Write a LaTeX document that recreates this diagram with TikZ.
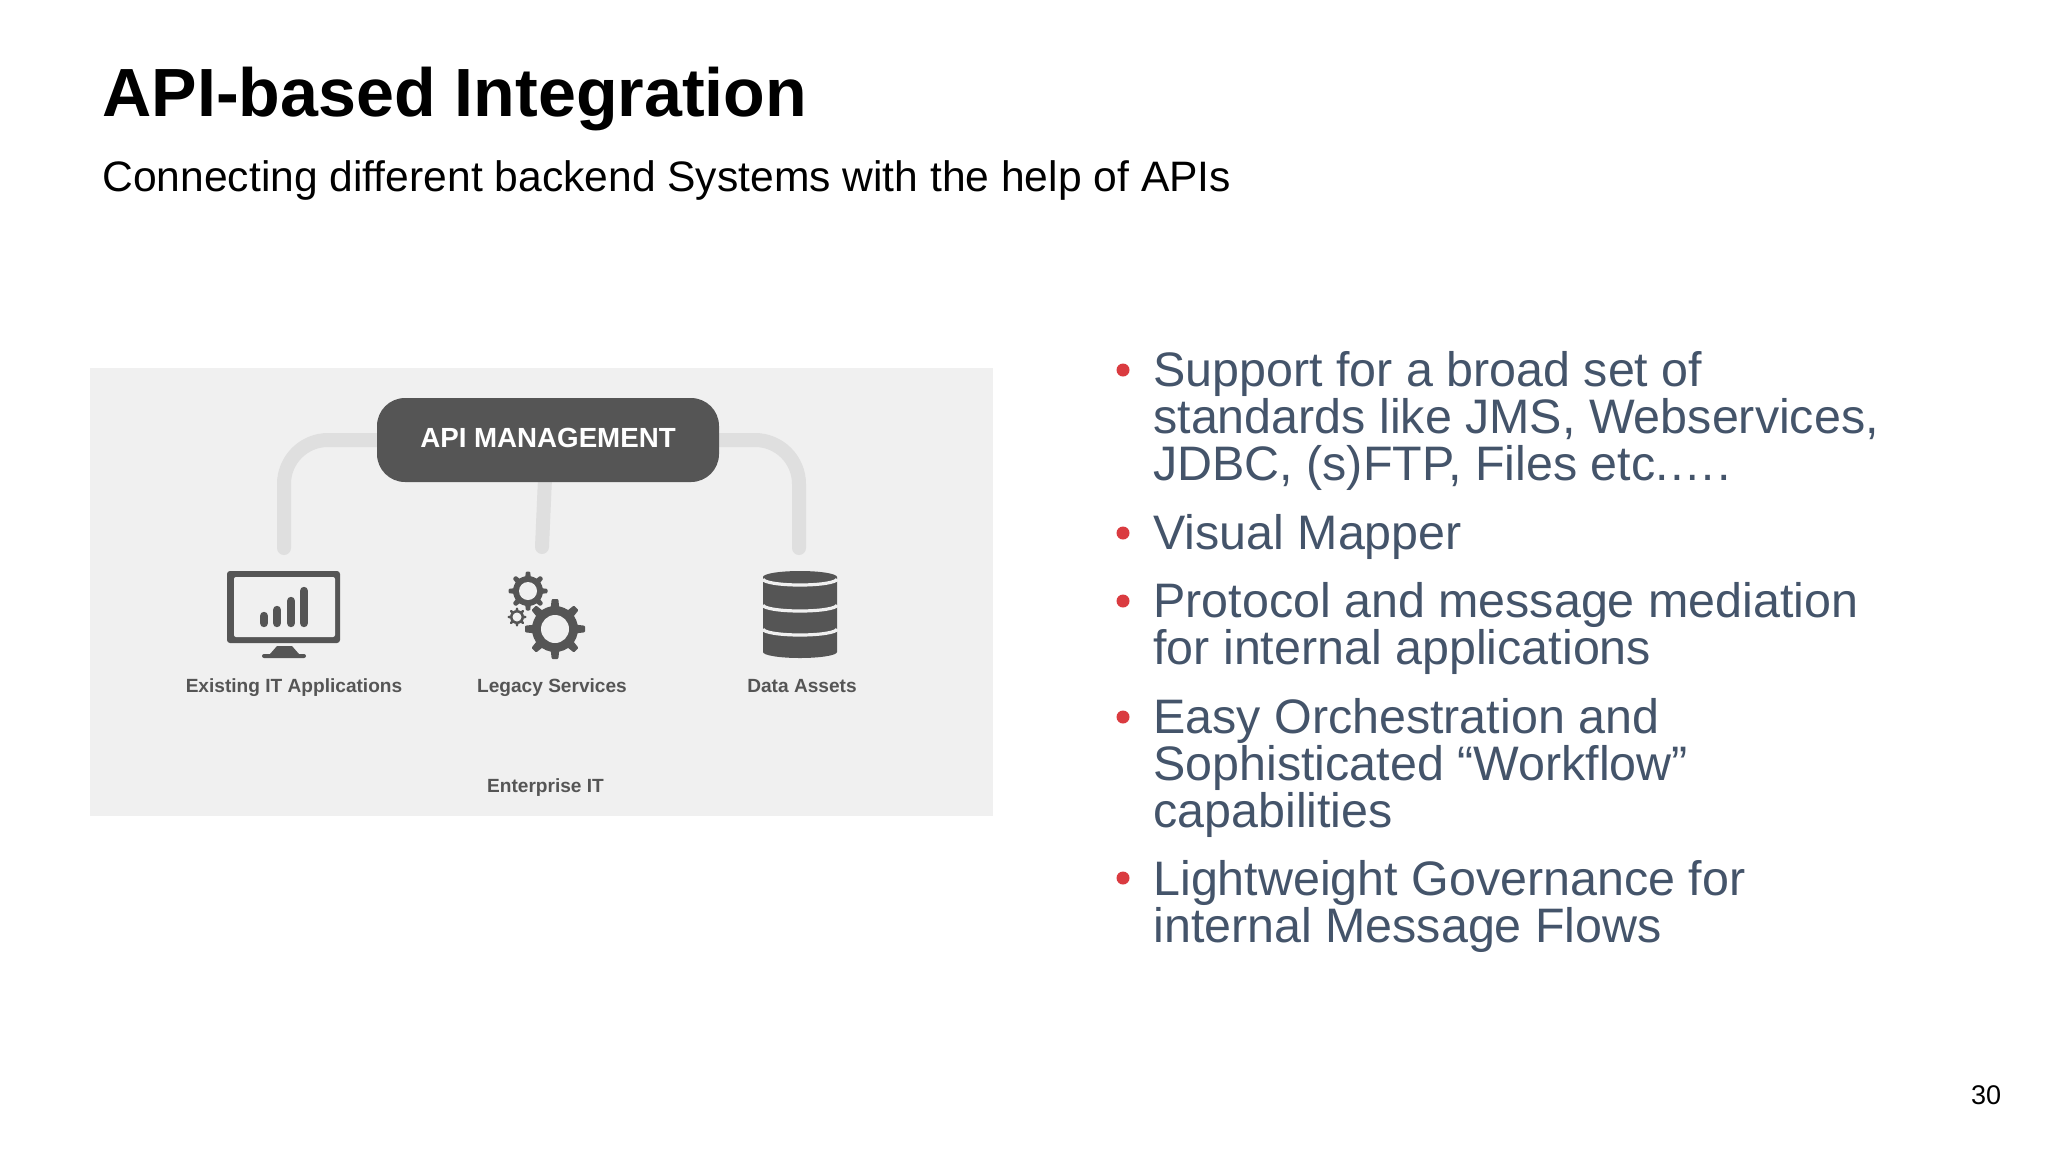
\documentclass[tikz,border=0pt]{standalone}
\usepackage{fontspec}
\usetikzlibrary{backgrounds}
\setmainfont{Liberation Sans}
\definecolor{panelgray}{HTML}{F0F0F0}
\definecolor{linkgray}{HTML}{DFDFDF}
\definecolor{icongray}{HTML}{555555}
\definecolor{slatetext}{HTML}{44546A}
\definecolor{bulletred}{HTML}{DA3B40}
\tikzset{
  caption/.style={font=\fontsize{9.55}{12}\selectfont\bfseries, text=icongray, inner sep=0pt, anchor=base},
  bulletitem/.style={font=\fontsize{24.2}{23.5}\selectfont, text=slatetext, align=left, anchor=north west, inner sep=0pt},
  bulletdot/.style={circle, fill=bulletred, minimum size=6.5pt, inner sep=0pt},
  link/.style={draw=linkgray, line width=7pt, line cap=round, rounded corners=22pt},
}
% one gear: centre, outer radius, body radius, hole radius
\newcommand{\geargly}[5]{
  \begin{scope}[shift={(#1,#2)}]
    \foreach \a in {0,45,...,315}
      \fill[icongray, rotate=\a, rounded corners=0.5pt] (-0.22*#3,0) -- (-0.11*#3,#3) -- (0.11*#3,#3) -- (0.22*#3,0) -- cycle;
    \fill[icongray] (0,0) circle (#4);
    \fill[panelgray] (0,0) circle (#5);
  \end{scope}
}
\begin{document}
\begin{tikzpicture}[x=0.5pt,y=-0.5pt]
  \useasboundingbox (0,0) rectangle (2048,1152);

  \node[anchor=base west, inner sep=0pt, font=\fontsize{34.1}{40}\selectfont\bfseries] (title) at (102,116) {API-based Integration};
  \node[anchor=base west, inner sep=0pt, font=\fontsize{21.3}{26}\selectfont] (subtitle) at (102,191) {Connecting different backend Systems with the help of APIs};

  \coordinate (appsend) at (284,548);
  \coordinate (svcend) at (542,547);
  \coordinate (dataend) at (799,548);
  \coordinate (svcstart) at (545,478);

  \node[fill=icongray, rounded corners=14pt, minimum width=171pt, minimum height=42pt, inner sep=0pt] (api) at (548,440) {};
  \node[text=white, font=\fontsize{13.85}{16}\selectfont\bfseries, inner sep=0pt] (apilabel) at (548,438) {API MANAGEMENT};

  \begin{scope}[on background layer]
    \fill[white] (0,0) rectangle (2048,1152);
    \fill[panelgray] (90,368) rectangle (993,816);
    \draw[link] (api.center) -- (284,440) -- (appsend);
    \draw[link] (api.center) -- (799,440) -- (dataend);
    \draw[link, rounded corners=0pt] (svcstart) -- (svcend);
  \end{scope}

  % monitor
  \fill[icongray, rounded corners=1.5pt] (227,571) rectangle (340,643);
  \fill[panelgray, rounded corners=1pt] (234,577) rectangle (335,637);
  \foreach \x/\t in {264/612,277/606,291/597,304/587}
    \draw[icongray, line width=4.2pt, line cap=round] (\x,\t+4) -- (\x,623);
  \fill[icongray] (277,646) -- (292,646) -- (299,654) -- (270,654) -- cycle;
  \fill[icongray, rounded corners=1pt] (262,654) rectangle (306,658);

  % gears
  \geargly{555}{629}{30}{23}{14}
  \geargly{528}{591}{19.5}{15}{9}
  \geargly{517}{617}{9.5}{7}{4.5}

  % database
  \fill[icongray] (763,577) -- (763,652) arc[start angle=180, end angle=0, x radius=37, y radius=6] -- (837,577) arc[start angle=0, end angle=-180, x radius=37, y radius=6] -- cycle;
  \foreach \y in {579,605,629}
    \draw[panelgray, line width=1.6pt] (763,\y) arc[start angle=180, end angle=0, x radius=37, y radius=6];

  \node[caption] (appslabel) at (294,692) {Existing IT Applications};
  \node[caption] (svclabel) at (552,692) {Legacy Services};
  \node[caption] (datalabel) at (802,692) {Data Assets};
  \node[caption] (itlabel) at (545.5,792.5) {Enterprise IT};

  \node[bulletitem] (b1) at (1153,351) {Support for a broad set of\\standards like JMS, Webservices,\\JDBC, (s)FTP, Files etc.….};
  \node[bulletitem] (b2) at (1153,514) {Visual Mapper};
  \node[bulletitem] (b3) at (1153,582.5) {Protocol and message mediation\\for internal applications};
  \node[bulletitem] (b4) at (1153,698) {Easy Orchestration and\\Sophisticated “Workflow”\\capabilities};
  \node[bulletitem] (b5) at (1153,860) {Lightweight Governance for\\internal Message Flows};

  \foreach \y/\n in {370/d1,533/d2,601/d3,717/d4,878/d5}
    \node[bulletdot] (\n) at (1123,\y) {};

  \node[inner sep=0pt, font=\fontsize{13.5}{16}\selectfont] (pagenum) at (1986,1095) {30};
\end{tikzpicture}
\end{document}
